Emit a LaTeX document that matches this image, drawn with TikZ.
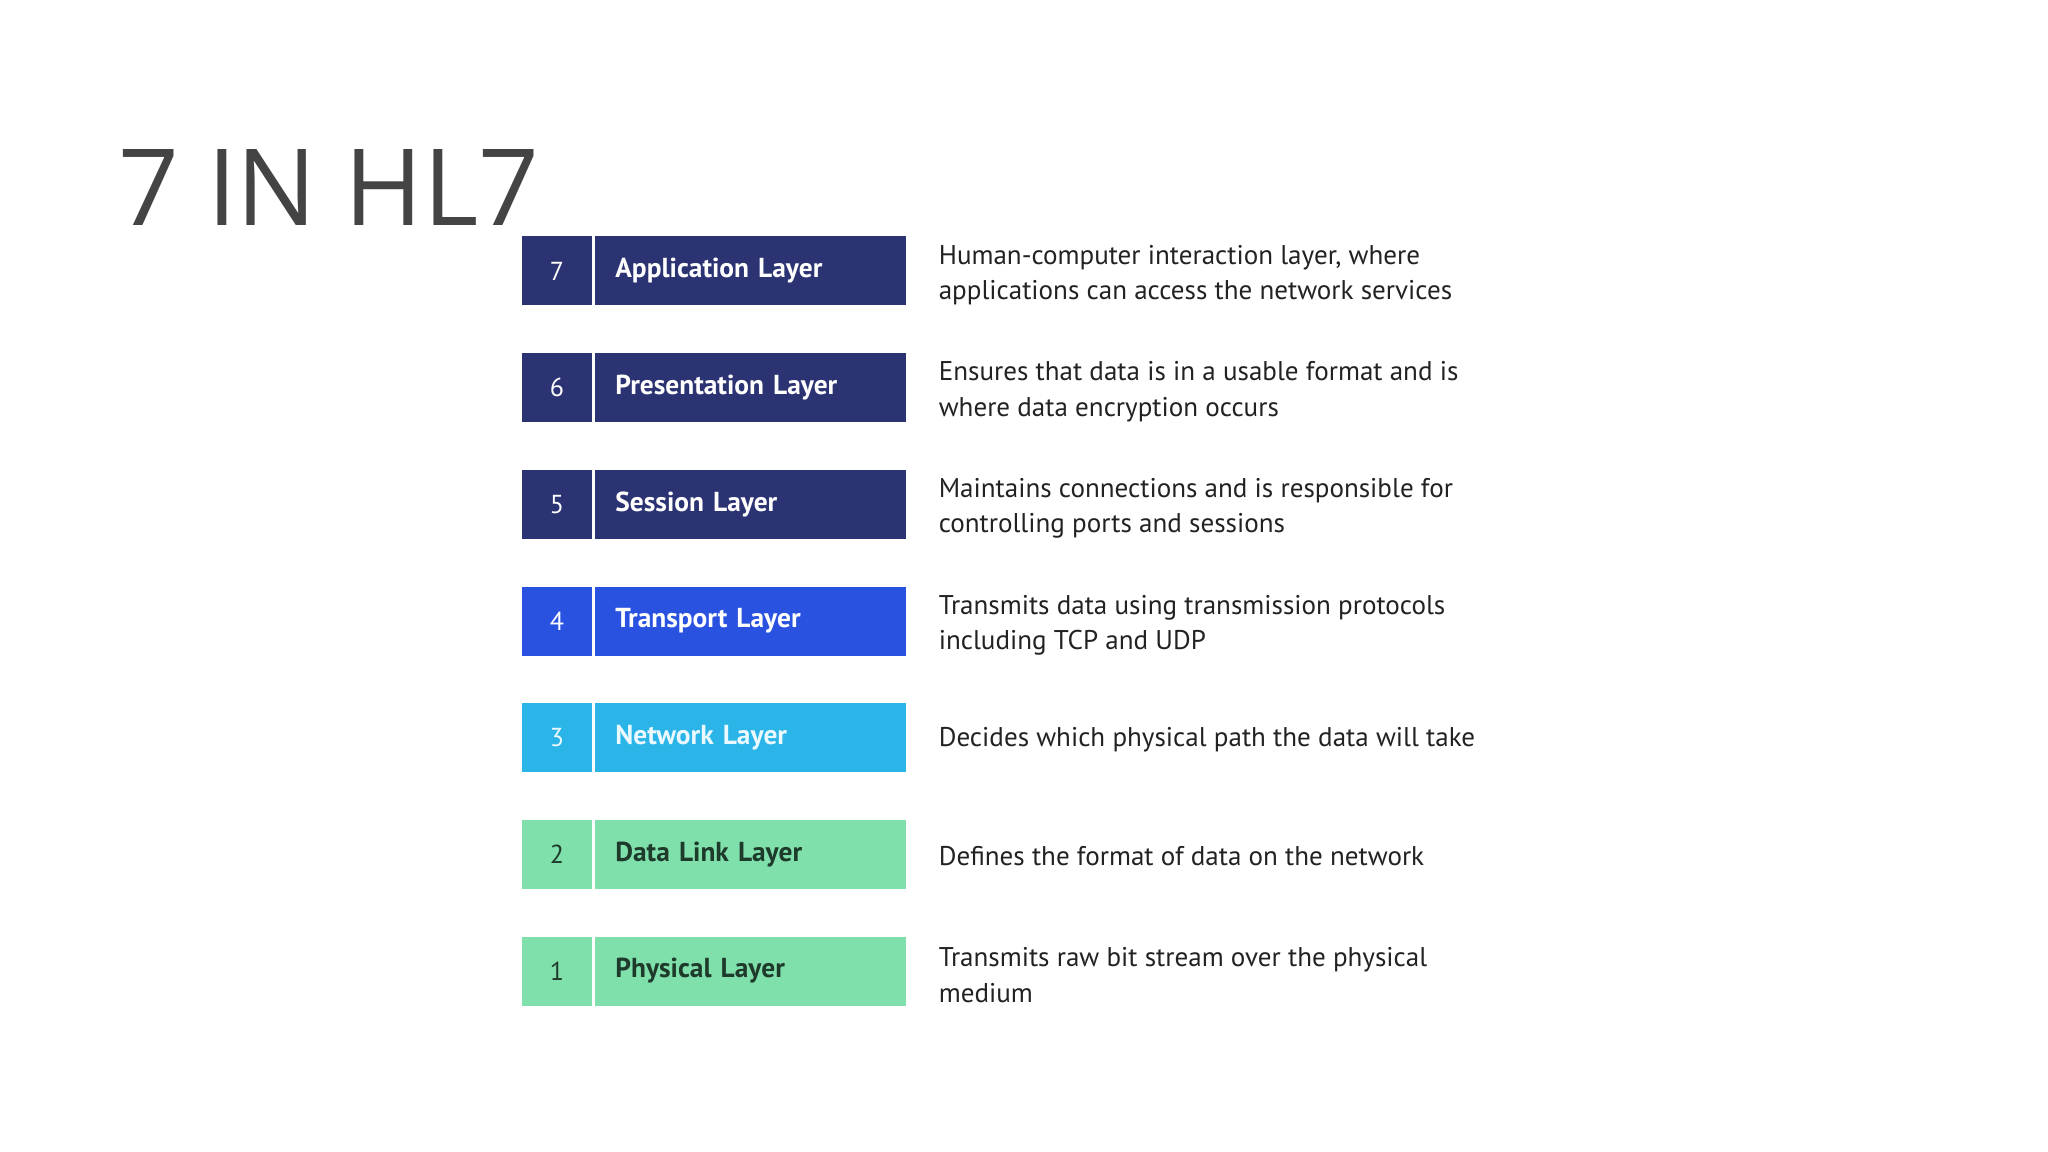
\documentclass[tikz,border=0pt]{standalone}
\usepackage{fontspec}
\setmainfont{PT Sans}
\newfontfamily\titlefont{Open Sans}
\usetikzlibrary{positioning}

\definecolor{navy}{HTML}{2C3373}
\definecolor{royal}{HTML}{2A52E0}
\definecolor{sky}{HTML}{2AB4E8}
\definecolor{mint}{HTML}{7FE0AC}
\definecolor{mintink}{HTML}{1E3A2A}
\definecolor{skyink}{HTML}{EAF8FF}
\definecolor{titlegray}{HTML}{444444}
\definecolor{descink}{HTML}{222222}

\begin{document}
\begin{tikzpicture}[
  numcell/.style={rectangle, inner sep=0pt, minimum width=0.70cm, minimum height=0.69cm,
                  font=\fontsize{7.4}{8}\selectfont},
  namecell/.style={rectangle, inner ysep=0pt, inner xsep=0.2cm, text width=2.71cm,
                   minimum height=0.69cm, align=left, font=\bfseries\fontsize{7.8}{8}\selectfont},
  desc/.style={inner sep=0pt, align=left, font=\fontsize{7.7}{10}\selectfont, text=descink}
]
  \useasboundingbox (0,0) rectangle (20.48,-11.52);
  \node[anchor=base west, inner sep=0pt, font=\titlefont\fontsize{30.3}{32}\selectfont,
        text=titlegray] (title) at (1.18,-2.26) {7 IN HL7};
  % layer boxes, top to bottom
  \foreach \k/\lbl/\bg/\fg in {7/Application Layer/navy/white,
                               6/Presentation Layer/navy/white,
                               5/Session Layer/navy/white,
                               4/Transport Layer/royal/white,
                               3/Network Layer/sky/skyink,
                               2/Data Link Layer/mint/mintink,
                               1/Physical Layer/mint/mintink} {
    \pgfmathsetmacro\yy{-2.71-(7-\k)*1.1667}
    \node[numcell, fill=\bg, text=\fg] (n\k) at (5.57,\yy) {\k};
    \node[namecell, fill=\bg, text=\fg, right=0.02cm of n\k] (l\k) {\lbl};
  }
  \node[desc, right=0.31cm of l7, yshift=-0.04cm] (d7) {Human-computer interaction layer, where\\applications can access the network services};
  \node[desc, right=0.31cm of l6, yshift=-0.04cm] (d6) {Ensures that data is in a usable format and is\\where data encryption occurs};
  \node[desc, right=0.31cm of l5, yshift=-0.04cm] (d5) {Maintains connections and is responsible for\\controlling ports and sessions};
  \node[desc, right=0.31cm of l4, yshift=-0.04cm] (d4) {Transmits data using transmission protocols\\including TCP and UDP};
  \node[desc, right=0.31cm of l3, yshift=-0.02cm] (d3) {Decides which physical path the data will take};
  \node[desc, right=0.31cm of l2, yshift=-0.02cm] (d2) {Defines the format of data on the network};
  \node[desc, right=0.31cm of l1, yshift=-0.04cm] (d1) {Transmits raw bit stream over the physical\\medium};
\end{tikzpicture}
\end{document}
